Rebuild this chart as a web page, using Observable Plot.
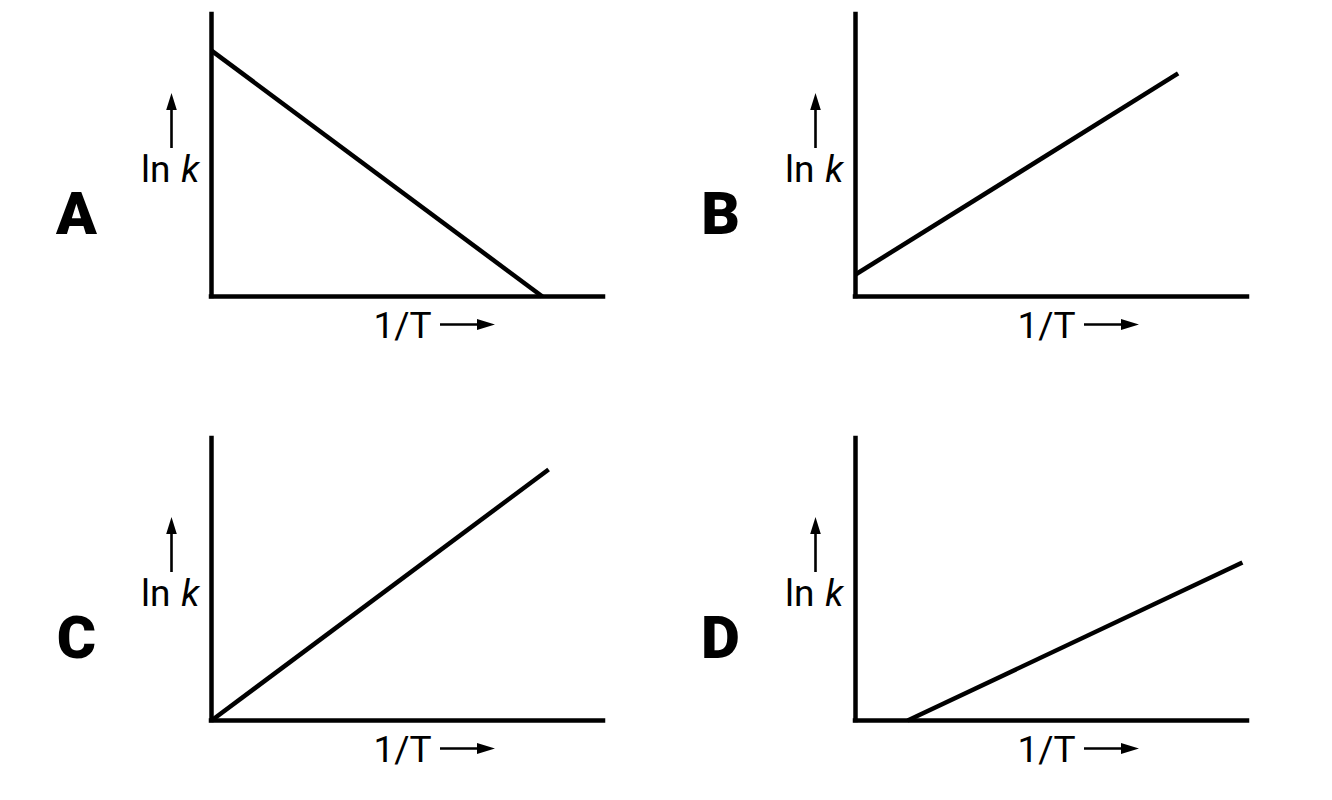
<!DOCTYPE html>
<html>
<head>
<meta charset="utf-8">
<script src="https://cdn.jsdelivr.net/npm/d3@7"></script>
<script src="https://cdn.jsdelivr.net/npm/@observablehq/plot@0.6"></script>
<style>
  html, body { margin: 0; padding: 0; background: #fff; }
  #chart svg { display: block; }
</style>
</head>
<body>
<div id="chart"></div>
<script>
// ---- data ----
const panelLetters = ["A", "B", "C", "D"];
const panelColumn = ["left", "right", "left", "right"];
const panelRow = ["top", "top", "bottom", "bottom"];
const lineStartInvT = [0, 0, 0, 1.33];
const lineStartLnK = [8.72, 0.78, 0, 0];
const lineEndInvT = [8.44, 8.23, 8.60, 9.87];
const lineEndLnK = [0, 7.91, 8.90, 5.60];
const xLabel = "1/T";
const yLabelPlain = "ln";
const yLabelItalic = "k";

// ---- tables built from the arrays ----
const panels = panelLetters.map((letter, i) => ({letter, col: panelColumn[i], row: panelRow[i]}));
const linePoints = panels.flatMap((p, i) => [
  {...p, invT: lineStartInvT[i], lnK: lineStartLnK[i]},
  {...p, invT: lineEndInvT[i], lnK: lineEndLnK[i]}
]);

// custom arrow glyphs (shaft + filled head)
const arrowRight = {
  draw(ctx) {
    const L = 27.5, t = 1.3, hb = 9.5, hw = 5.5;
    ctx.moveTo(-L, -t); ctx.lineTo(hb, -t); ctx.lineTo(hb, -hw); ctx.lineTo(L, 0);
    ctx.lineTo(hb, hw); ctx.lineTo(hb, t); ctx.lineTo(-L, t); ctx.closePath();
  }
};
const arrowUp = {
  draw(ctx) {
    const L = 27.5, t = 1.3, hb = 10.5, hw = 5.3;
    ctx.moveTo(-t, L); ctx.lineTo(-t, -hb); ctx.lineTo(-hw, -hb); ctx.lineTo(0, -L);
    ctx.lineTo(hw, -hb); ctx.lineTo(t, -hb); ctx.lineTo(t, L); ctx.closePath();
  }
};

const font = "Roboto, 'Noto Sans', sans-serif";
const facetOpts = {fx: "col", fy: "row", frameAnchor: "bottom-left"};

const chart = Plot.plot({
  width: 1332,
  height: 800,
  marginLeft: 211,
  marginRight: 85,
  marginTop: 13,
  marginBottom: 80,
  x: {domain: [0, 10], axis: null},
  y: {domain: [0, 10], axis: null},
  fx: {domain: ["left", "right"], axis: null, paddingInner: 0.392, paddingOuter: 0},
  fy: {domain: ["top", "bottom"], axis: null, paddingInner: 0.335, paddingOuter: 0},
  marks: [
    Plot.ruleX([0], {stroke: "black", strokeWidth: 4.5, strokeLinecap: "square"}),
    Plot.ruleY([0], {stroke: "black", strokeWidth: 4.5, strokeLinecap: "square"}),
    Plot.line(linePoints, {x: "invT", y: "lnK", z: "letter", fx: "col", fy: "row",
      stroke: "black", strokeWidth: 4.5, strokeLinecap: "butt"}),
    // panel letters
    Plot.text(panels, {...facetOpts, text: "letter", dx: -135, dy: -63, lineAnchor: "bottom",
      textAnchor: "middle", fontSize: 60, fontWeight: 900, fontFamily: font, fill: "black"}),
    // y label "ln k"
    Plot.text(panels, {...facetOpts, text: () => yLabelPlain, dx: -41, dy: -115, lineAnchor: "bottom",
      textAnchor: "end", fontSize: 37, fontFamily: font, fill: "black"}),
    Plot.text(panels, {...facetOpts, text: () => yLabelItalic, dx: -12, dy: -115, lineAnchor: "bottom",
      textAnchor: "end", fontSize: 37, fontStyle: "italic", fontFamily: font, fill: "black"}),
    Plot.dot(panels, {...facetOpts, symbol: arrowUp, r: 5, dx: -40, dy: -176, fill: "black", stroke: "none"}),
    // x label "1/T ->"
    Plot.text(panels, {...facetOpts, text: () => xLabel, dx: 162, dy: 41, lineAnchor: "bottom",
      textAnchor: "start", fontSize: 37, fontFamily: font, fill: "black"}),
    Plot.dot(panels, {...facetOpts, symbol: arrowRight, r: 5, dx: 256, dy: 28, fill: "black", stroke: "none"})
  ]
});
document.getElementById("chart").appendChild(chart);
</script>
</body>
</html>
